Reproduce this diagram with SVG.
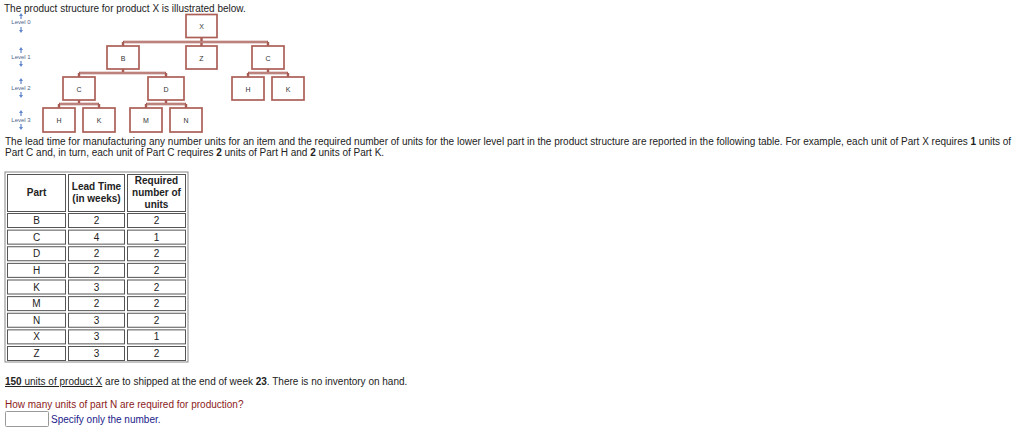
<svg xmlns="http://www.w3.org/2000/svg" width="1024" height="437" viewBox="0 0 1024 437">
<defs>
<style>
text{font-family:"Liberation Sans",Arial,sans-serif;fill:#222}
.t{font-size:10px}
.b{font-weight:bold}
.lvl{font-size:6px;fill:#4a5f8a;text-anchor:middle}
.arr{fill:#5f86cc}
.box rect{fill:#fff;stroke:#ac5f57;stroke-width:1.7}
.box text{font-size:7px;text-anchor:middle;fill:#333}
.con{fill:none;stroke:#a65b53;stroke-width:2.4}
.con2{fill:none;stroke:#f2dfdb;stroke-width:0.6}
.cell{fill:#fff;stroke:#555;stroke-width:1}
.ct{font-size:10px;text-anchor:middle}
</style>
<g id="upA"><path class="arr" d="M0,0 L-2,3 L-0.6,3 L-0.6,6 L0.6,6 L0.6,3 L2,3 Z"/></g>
<g id="dnA"><path class="arr" d="M0,6 L-2,3 L-0.6,3 L-0.6,0 L0.6,0 L0.6,3 L2,3 Z"/></g>
</defs>
<rect width="1024" height="437" fill="#fff"/>

<text class="t" x="4" y="12">The product structure for product X is illustrated below.</text>

<g id="levels">
<use href="#upA" x="21" y="13"/><text class="lvl" x="21" y="24">Level 0</text><use href="#dnA" x="21" y="27"/>
<use href="#upA" x="21" y="47"/><text class="lvl" x="21" y="59">Level 1</text><use href="#dnA" x="21" y="61"/>
<use href="#upA" x="21" y="78"/><text class="lvl" x="21" y="90">Level 2</text><use href="#dnA" x="21" y="92"/>
<use href="#upA" x="21" y="110"/><text class="lvl" x="21" y="122">Level 3</text><use href="#dnA" x="21" y="124"/>
</g>

<g id="connectors">
<path class="con" d="M201.5,37 V42 M123,42 H268 M123,42 V46 M201.5,42 V46 M268,42 V46 M123,69 V73 M79,73 H166 M79,73 V77 M166,73 V77 M268,69 V73 M248,73 H288 M248,73 V77 M288,73 V77 M79,100 V104 M59,104 H99 M59,104 V108 M99,104 V108 M166,100 V104 M146,104 H186 M146,104 V108 M186,104 V108"/>
<path class="con2" d="M124,42 H267 M80,73 H165 M249,73 H287 M60,104 H98 M147,104 H185"/>
</g>

<g id="nX" class="box"><rect x="186" y="14.5" width="31" height="23"/><text x="201.5" y="28.5">X</text></g>
<g id="nB" class="box"><rect x="107" y="46" width="32" height="23"/><text x="123" y="60.5">B</text></g>
<g id="nZ" class="box"><rect x="186" y="46" width="31" height="23"/><text x="201.5" y="60.5">Z</text></g>
<g id="nC1" class="box"><rect x="252" y="46" width="32" height="23"/><text x="268" y="60.5">C</text></g>
<g id="nC2" class="box"><rect x="63" y="77" width="32" height="23"/><text x="79" y="91.5">C</text></g>
<g id="nD" class="box"><rect x="148" y="77" width="36" height="23"/><text x="166" y="91.5">D</text></g>
<g id="nH2" class="box"><rect x="232" y="77" width="32" height="23"/><text x="248" y="91.5">H</text></g>
<g id="nK2" class="box"><rect x="272" y="77" width="32" height="23"/><text x="288" y="91.5">K</text></g>
<g id="nH3" class="box"><rect x="43" y="108" width="32" height="24"/><text x="59" y="122.5">H</text></g>
<g id="nK3" class="box"><rect x="83" y="108" width="32" height="24"/><text x="99" y="122.5">K</text></g>
<g id="nM" class="box"><rect x="130" y="108" width="32" height="24"/><text x="146" y="122.5">M</text></g>
<g id="nN" class="box"><rect x="170" y="108" width="32" height="24"/><text x="186" y="122.5">N</text></g>

<text class="t" x="5" y="145">The lead time for manufacturing any number units for an item and the required number of units for the lower level part in the product structure are reported in the following table. For example, each unit of Part X requires <tspan class="b">1</tspan> units of</text>
<text class="t" x="5" y="156">Part C and, in turn, each unit of Part C requires <tspan class="b">2</tspan> units of Part H and <tspan class="b">2</tspan> units of Part K.</text>

<g id="table">
<rect x="5" y="172" width="183" height="190" fill="#fff" stroke="#888" stroke-width="1"/>
<rect class="cell" x="7.5" y="174.5" width="58" height="37"/>
<rect class="cell" x="68.5" y="174.5" width="56" height="37"/>
<rect class="cell" x="127.5" y="174.5" width="58" height="37"/>
<text class="ct b" x="36.5" y="196">Part</text>
<text class="ct b" x="96.5" y="190">Lead Time</text>
<text class="ct b" x="96.5" y="202">(in weeks)</text>
<text class="ct b" x="156.5" y="184">Required</text>
<text class="ct b" x="156.5" y="196">number of</text>
<text class="ct b" x="156.5" y="208">units</text>
<g id="rows">
<g transform="translate(0,0)"><rect class="cell" x="7.5" y="213.5" width="58" height="14"/><rect class="cell" x="68.5" y="213.5" width="56" height="14"/><rect class="cell" x="127.5" y="213.5" width="58" height="14"/><text class="ct" x="36.5" y="224">B</text><text class="ct" x="96.5" y="224">2</text><text class="ct" x="156.5" y="224">2</text></g>
<g transform="translate(0,16.625)"><rect class="cell" x="7.5" y="213.5" width="58" height="14"/><rect class="cell" x="68.5" y="213.5" width="56" height="14"/><rect class="cell" x="127.5" y="213.5" width="58" height="14"/><text class="ct" x="36.5" y="224">C</text><text class="ct" x="96.5" y="224">4</text><text class="ct" x="156.5" y="224">1</text></g>
<g transform="translate(0,33.25)"><rect class="cell" x="7.5" y="213.5" width="58" height="14"/><rect class="cell" x="68.5" y="213.5" width="56" height="14"/><rect class="cell" x="127.5" y="213.5" width="58" height="14"/><text class="ct" x="36.5" y="224">D</text><text class="ct" x="96.5" y="224">2</text><text class="ct" x="156.5" y="224">2</text></g>
<g transform="translate(0,49.875)"><rect class="cell" x="7.5" y="213.5" width="58" height="14"/><rect class="cell" x="68.5" y="213.5" width="56" height="14"/><rect class="cell" x="127.5" y="213.5" width="58" height="14"/><text class="ct" x="36.5" y="224">H</text><text class="ct" x="96.5" y="224">2</text><text class="ct" x="156.5" y="224">2</text></g>
<g transform="translate(0,66.5)"><rect class="cell" x="7.5" y="213.5" width="58" height="14"/><rect class="cell" x="68.5" y="213.5" width="56" height="14"/><rect class="cell" x="127.5" y="213.5" width="58" height="14"/><text class="ct" x="36.5" y="224">K</text><text class="ct" x="96.5" y="224">3</text><text class="ct" x="156.5" y="224">2</text></g>
<g transform="translate(0,83.125)"><rect class="cell" x="7.5" y="213.5" width="58" height="14"/><rect class="cell" x="68.5" y="213.5" width="56" height="14"/><rect class="cell" x="127.5" y="213.5" width="58" height="14"/><text class="ct" x="36.5" y="224">M</text><text class="ct" x="96.5" y="224">2</text><text class="ct" x="156.5" y="224">2</text></g>
<g transform="translate(0,99.75)"><rect class="cell" x="7.5" y="213.5" width="58" height="14"/><rect class="cell" x="68.5" y="213.5" width="56" height="14"/><rect class="cell" x="127.5" y="213.5" width="58" height="14"/><text class="ct" x="36.5" y="224">N</text><text class="ct" x="96.5" y="224">3</text><text class="ct" x="156.5" y="224">2</text></g>
<g transform="translate(0,116.375)"><rect class="cell" x="7.5" y="213.5" width="58" height="14"/><rect class="cell" x="68.5" y="213.5" width="56" height="14"/><rect class="cell" x="127.5" y="213.5" width="58" height="14"/><text class="ct" x="36.5" y="224">X</text><text class="ct" x="96.5" y="224">3</text><text class="ct" x="156.5" y="224">1</text></g>
<g transform="translate(0,133)"><rect class="cell" x="7.5" y="213.5" width="58" height="14"/><rect class="cell" x="68.5" y="213.5" width="56" height="14"/><rect class="cell" x="127.5" y="213.5" width="58" height="14"/><text class="ct" x="36.5" y="224">Z</text><text class="ct" x="96.5" y="224">3</text><text class="ct" x="156.5" y="224">2</text></g>
</g>
</g>

<text class="t" x="5" y="385"><tspan text-decoration="underline"><tspan class="b">150</tspan> units of product X</tspan> are to shipped at the end of week <tspan class="b">23</tspan>. There is no inventory on hand.</text>
<text class="t" x="5" y="408" style="fill:#8b1a1a">How many units of part N are required for production?</text>
<rect x="5.5" y="411.5" width="43" height="15" fill="#fff" stroke="#999" stroke-width="1" rx="1"/>
<text class="t" x="51" y="423" style="fill:#1a1a8b">Specify only the number.</text>
</svg>
